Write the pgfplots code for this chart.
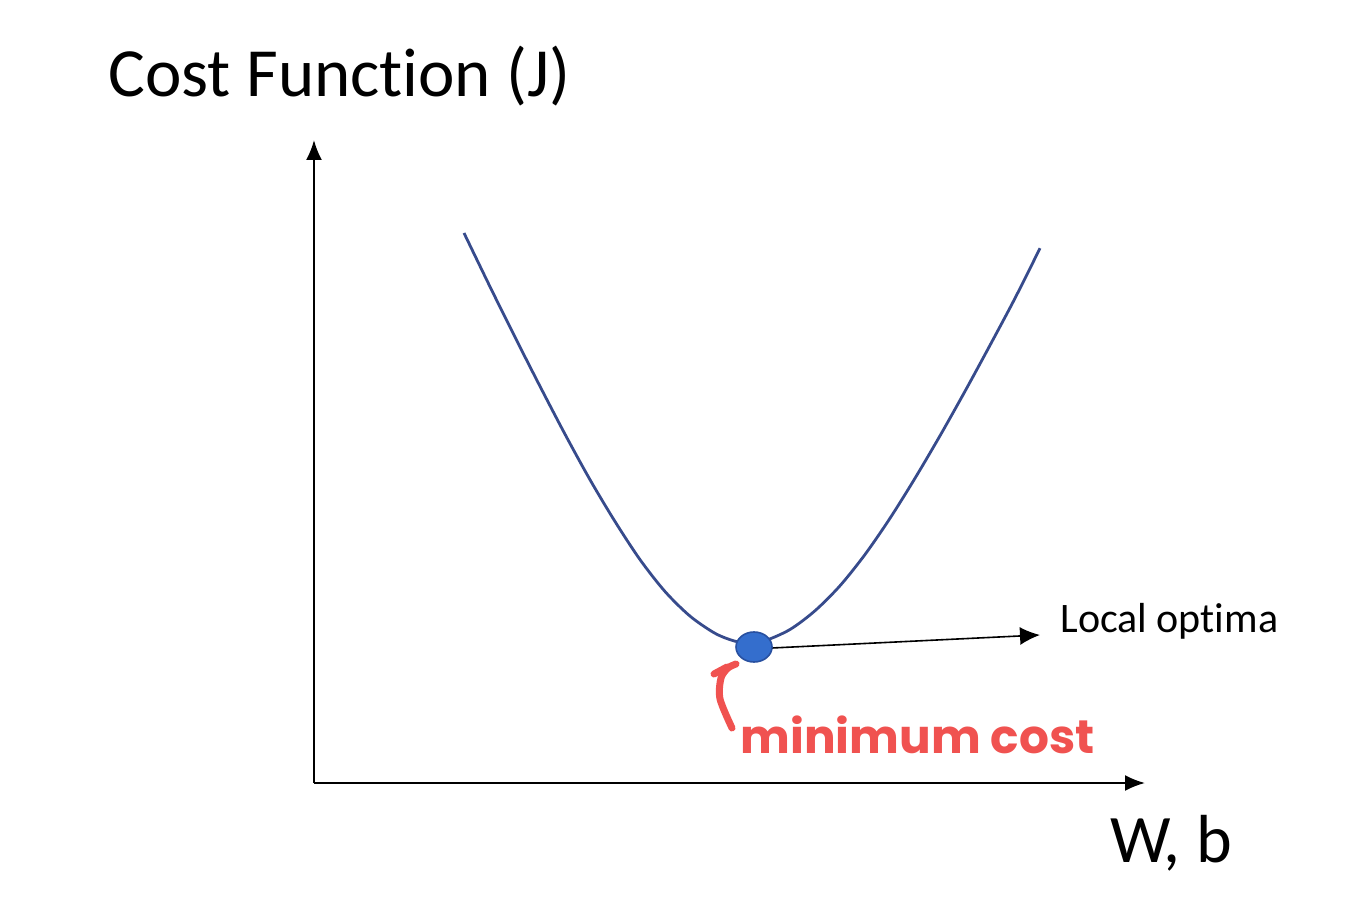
\documentclass[border=0pt]{standalone}
\usepackage{pgfplots}
\pgfplotsset{compat=1.18}
\usepackage{fontspec}
\setmainfont[Ligatures=NoCommon]{Carlito}
\newfontfamily\handfont{Poppins}
\usetikzlibrary{arrows.meta}
\definecolor{curveblue}{RGB}{55,75,140}
\definecolor{dotblue}{RGB}{52,110,205}
\definecolor{dotedge}{RGB}{40,80,160}
\definecolor{annred}{RGB}{240,82,80}
\begin{document}
\begin{tikzpicture}
\begin{axis}[
  scale only axis,
  width=415.5pt, height=321.5pt,
  xmin=314, xmax=1145, ymin=121, ymax=764,
  axis lines=left,
  axis line style={line width=1pt, -{Latex[length=10pt,width=8pt]}},
  ticks=none,
  clip=false,
]
% full canvas
\path (axis cs:0,0) rectangle (axis cs:1358,904);
% cost curve (y = 904 - pixel row)
\addplot[curveblue, line width=1.4pt, smooth] coordinates {
(464,671)(490,617.3)(515,566.9)(540,517.7)(565,469.8)(590,424.3)(615,382.5)(640,344.4)(665,312.5)(690,287.9)(715,270.7)(735,262.8)(750,261)
(765,263.25)(790,274.5)(815,293.25)(840,318.25)(865,349.5)(890,385.75)(915,425.75)(940,468.25)(965,512.75)(990,558.75)(1015,605.75)(1040,655.75)
};
% arrow to label
\addplot[black, line width=0.8pt, -{Latex[length=10pt,width=9pt]}] coordinates {(772,256)(1040,269)};
% minimum point
\addplot[only marks, mark=*, mark size=7.5pt, mark options={xscale=1.2, fill=dotblue, draw=dotedge, line width=0.8pt}] coordinates {(754,257)};
% red curved arrow
\addplot[annred, line width=3.5pt, smooth, line cap=round] coordinates {(732,176)(720,205)(721,226)(728,236)(736,240)};
\addplot[annred, line width=3.5pt, line cap=round] coordinates {(714,230)(727,237)};
% texts
\node[anchor=base west, inner sep=0pt, font=\fontsize{34.5}{40}\selectfont] at (axis cs:108,807) {Cost Function (J)};
\node[anchor=base west, inner sep=0pt, font=\fontsize{34}{40}\selectfont] at (axis cs:1110,42) {W, b};
\node[anchor=base west, inner sep=0pt, font=\fontsize{21}{25}\selectfont] at (axis cs:1060,271) {Local optima};
\node[anchor=base west, inner sep=0pt, text=annred, font=\handfont\bfseries\fontsize{23.5}{28}\selectfont] at (axis cs:740,151) {minimum cost};
\end{axis}
\end{tikzpicture}
\end{document}
